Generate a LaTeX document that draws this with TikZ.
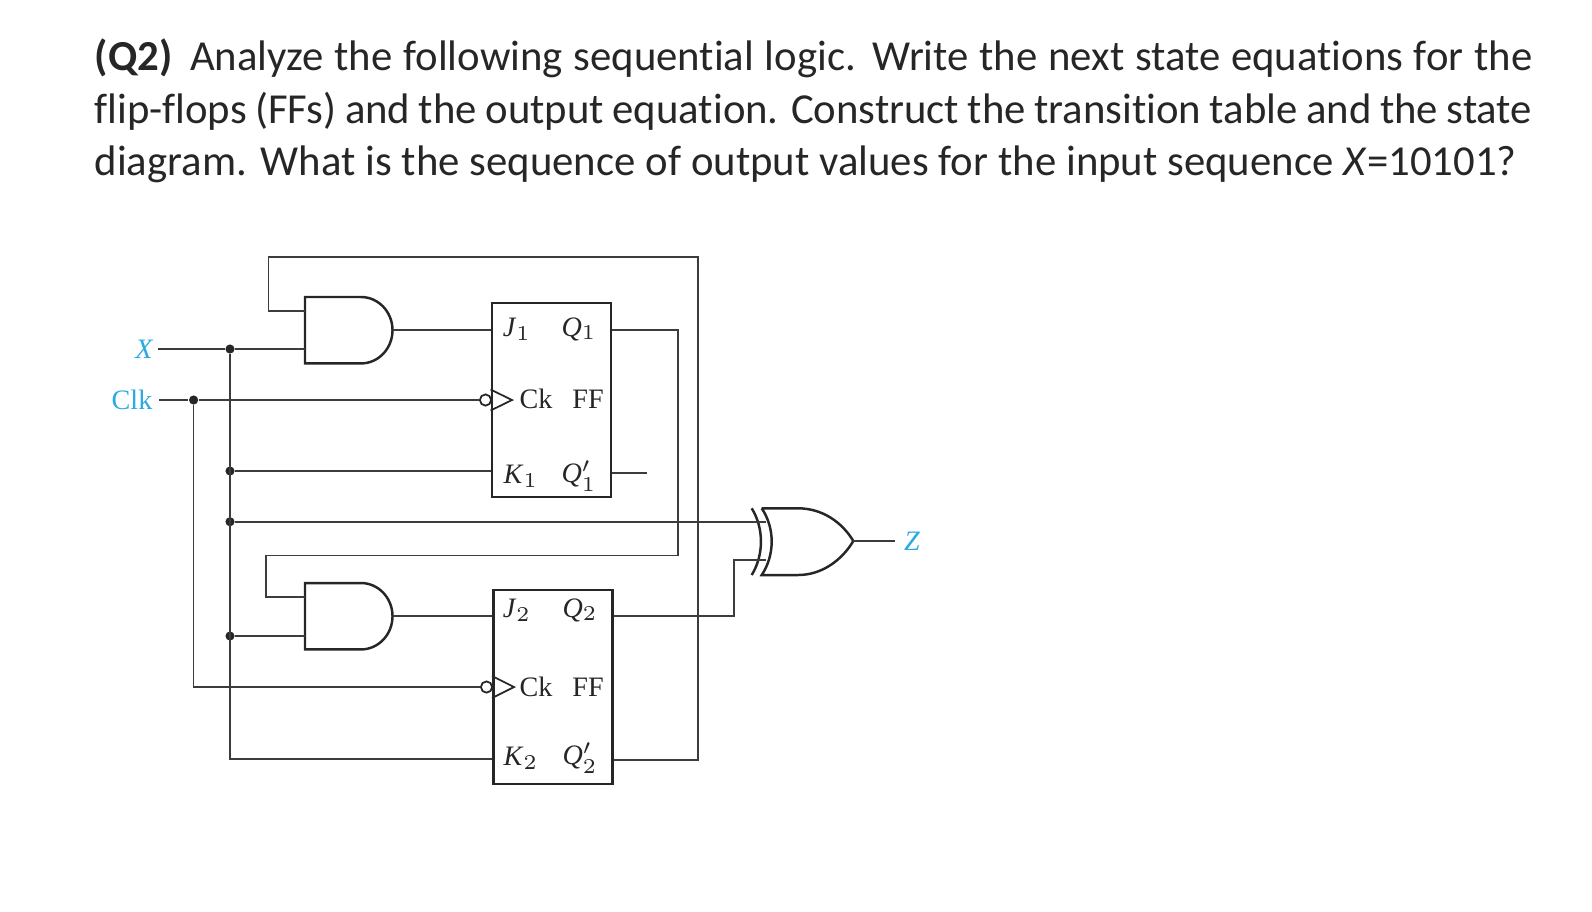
\documentclass[tikz,border=0pt]{standalone}
\usepackage{fontspec}
\setmainfont[Ligatures=NoCommon]{Carlito}
\newfontfamily\cktfont{Liberation Serif}
\definecolor{ink}{RGB}{38,38,38}
\definecolor{wirec}{RGB}{60,60,60}
\definecolor{cyanlbl}{RGB}{41,171,226}
\tikzset{
  wire/.style={draw=wirec,line width=0.5pt},
  gate/.style={draw=ink,line width=0.7pt},
  ffbox/.style={draw=ink,line width=0.8pt,rectangle,inner sep=0pt,minimum width=1.19cm,minimum height=1.94cm},
  joint/.style={circle,fill=ink,inner sep=0pt,minimum size=2.6pt},
  bubble/.style={circle,draw=ink,line width=0.5pt,fill=white,inner sep=0pt,minimum size=3.2pt},
  cktlbl/.style={font=\cktfont\fontsize{8}{9}\selectfont,text=ink,inner sep=0pt},
  inlbl/.style={font=\cktfont\fontsize{8}{9}\selectfont,text=cyanlbl,inner sep=0pt},
  titleline/.style={font=\fontsize{12.15}{14}\selectfont,text=ink,anchor=base west,inner sep=0pt},
}
\begin{document}
\begin{tikzpicture}[x=0.01cm,y=-0.01cm]
\useasboundingbox (0,0) rectangle (1592,911);
% question text
\node[titleline] (line1) at (94,70) {\makebox[14.37cm][s]{\textbf{(Q2)}\hspace{0.42em}Analyze the following sequential logic. Write the next state equations for the}};
\node[titleline] (line2) at (94,123) {\makebox[14.37cm][s]{flip-flops (FFs) and the output equation. Construct the transition table and the state}};
\node[titleline] (line3) at (94,175) {\makebox[14.21cm][s]{diagram. What is the sequence of output values for the input sequence \textit{X}=10101?}};

% flip-flops
\node[ffbox] (ff1) at (551.5,400) {};
\node[ffbox] (ff2) at (553,687) {};
\node[cktlbl] (j1) at (517,329) {\textit{J}$_1$};
\node[cktlbl] (q1) at (579,329) {\textit{Q}$_1$};
\node[cktlbl] (ck1) at (536,399) {Ck};
\node[cktlbl] (fftext1) at (588,399) {FF};
\node[cktlbl] (k1) at (521,476) {\textit{K}$_1$};
\node[cktlbl] (qn1) at (579,476) {\textit{Q}$'_1$};
\node[cktlbl] (j2) at (517,610) {\textit{J}$_2$};
\node[cktlbl] (q2) at (580,610) {\textit{Q}$_2$};
\node[cktlbl] (ck2) at (536,687) {Ck};
\node[cktlbl] (fftext2) at (588,687) {FF};
\node[cktlbl] (k2) at (521,758) {\textit{K}$_2$};
\node[cktlbl] (qn2) at (580,758) {\textit{Q}$'_2$};

% clock triangles
\draw[gate,line width=0.5pt] (ff1.west |- 0,389.5) -- (512,400) -- (ff1.west |- 0,410.5);
\draw[gate,line width=0.5pt] (ff2.west |- 0,676) -- (514,687) -- (ff2.west |- 0,698);

% and gates
\draw[gate] (305,297) -- (361,297) arc (-90:90:31.5 and 33.2) -- (305,363.4) -- cycle;
\draw[gate] (305,583) -- (361,583) arc (-90:90:31.5 and 33.2) -- (305,649.4) -- cycle;
\coordinate (and1a) at (305,311);
\coordinate (and1b) at (305,349);
\coordinate (and1y) at (392.5,330);
\coordinate (and2a) at (305,597);
\coordinate (and2b) at (305,636);
\coordinate (and2y) at (392.5,616);

% xor gate
\draw[gate] (761.7,508.3) -- (798,508.3) .. controls (822,508.3) and (842,522) .. (853.3,541) .. controls (842,560) and (822,575) .. (798,575) -- (761.7,575) .. controls (775,555) and (775,528) .. (761.7,508.3);
\draw[gate] (751.7,508.3) .. controls (764,528) and (764,555) .. (751.7,575);
\coordinate (xora) at (766,521.7);
\coordinate (xorb) at (766,560);
\coordinate (xory) at (853.3,541);

% inputs and output
\node[inlbl,font=\cktfont\itshape\fontsize{8}{9}\selectfont] (xin) at (144,349) {X};
\node[inlbl] (clk) at (132,400) {Clk};
\node[inlbl,font=\cktfont\itshape\fontsize{8}{9}\selectfont] (zout) at (912,541) {Z};
\node[joint] (dx1) at (230,349) {};
\node[joint] (dx2) at (230,471) {};
\node[joint] (dx3) at (230,521.7) {};
\node[joint] (dx4) at (230,636) {};
\node[joint] (dclk) at (193.6,400) {};
\node[bubble] (bub1) at (485.5,400) {};
\node[bubble] (bub2) at (486.5,687) {};
\coordinate (xbot) at (230,759.3);
\coordinate (clkbot) at (193.6,687);
\coordinate (q1stub) at (646.5,472.7);
\coordinate (xstart) at (158,349);
\coordinate (clkstart) at (159,400);
\coordinate (zstub) at (895,541);

% wires
\draw[wire] (xstart) -- (dx1) -- (and1b);
\draw[wire] (dx1) -- (xbot) -- (xbot -| ff2.west);
\draw[wire] (dx2) -- (dx2 -| ff1.west);
\draw[wire] (dx3) -- (xora);
\draw[wire] (dx4) -- (and2b);
\draw[wire] (clkstart) -- (dclk) -- (bub1);
\draw[wire] (dclk) -- (clkbot) -- (bub2);
\draw[wire] (and1y) -- (and1y -| ff1.west);
\draw[wire] (and2y) -- (and2y -| ff2.west);
\draw[wire] (ff1.east |- and1y) -- (678.3,330) -- (678.3,555.5) -- (265.7,555.5) -- (265.7,597) -- (and2a);
\draw[wire] (ff1.east |- q1stub) -- (q1stub);
\draw[wire] (ff2.east |- 0,760) -- (698,760) -- (698,257) -- (268.5,257) -- (268.5,311) -- (and1a);
\draw[wire] (ff2.east |- and2y) -- (734,616) -- (734,560) -- (xorb);
\draw[wire] (xory) -- (zstub);
\end{tikzpicture}
\end{document}
